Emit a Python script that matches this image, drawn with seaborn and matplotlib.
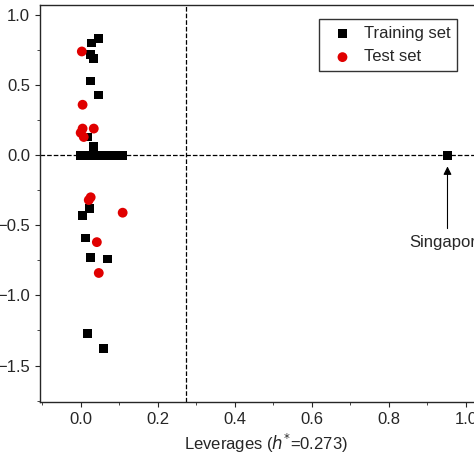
import matplotlib
matplotlib.use("Agg")
import matplotlib.pyplot as plt
import seaborn as sns
import pandas as pd
from matplotlib.ticker import MultipleLocator

sns.set_style("ticks")
plt.rcParams['font.family'] = ['Liberation Sans', 'DejaVu Sans']

train_x = [0.047, 0.029, 0.026, 0.034, 0.026, 0.047, 0.018, 0.034,
           0.0, 0.01, 0.02, 0.03, 0.04, 0.05, 0.06, 0.07, 0.08, 0.09, 0.10, 0.11,
           0.023, 0.005, 0.013, 0.026, 0.07, 0.018, 0.06, 0.952]
train_y = [0.83, 0.80, 0.72, 0.69, 0.53, 0.43, 0.13, 0.06,
           0.0, 0.0, 0.0, 0.0, 0.0, 0.0, 0.0, 0.0, 0.0, 0.0, 0.0, 0.0,
           -0.38, -0.43, -0.59, -0.73, -0.74, -1.27, -1.38, 0.0]
test_x = [0.003, 0.005, 0.005, 0.034, 0.0, 0.008, 0.026, 0.021, 0.109, 0.042, 0.047]
test_y = [0.74, 0.36, 0.19, 0.19, 0.16, 0.13, -0.30, -0.32, -0.41, -0.62, -0.84]
h_star = 0.273

fig = plt.figure(figsize=(4.74, 4.74), dpi=100)
ax = fig.add_axes([0.084, 0.152, 0.956, 0.837])
sns.scatterplot(x=train_x, y=train_y, marker='s', color='black', s=40,
                edgecolor='none', label='Training set', ax=ax, zorder=3)
sns.scatterplot(x=test_x, y=test_y, marker='o', color='#e00000', s=50,
                edgecolor='none', label='Test set', ax=ax, zorder=4)
ax.axhline(0, color='black', ls='--', lw=0.9, zorder=1)
ax.axvline(h_star, color='black', ls='--', lw=0.9, zorder=1)
ax.set_xlim(-0.106, 1.07)
ax.set_ylim(-1.76, 1.07)
ax.xaxis.set_major_locator(MultipleLocator(0.2))
ax.xaxis.set_minor_locator(MultipleLocator(0.1))
ax.yaxis.set_major_locator(MultipleLocator(0.5))
ax.yaxis.set_minor_locator(MultipleLocator(0.25))
ax.tick_params(labelsize=12)
for s in ax.spines.values():
    s.set_visible(True)
    s.set_linewidth(1.0)
ax.set_xlabel(r'Leverages ($h^{*}$=0.273)', fontsize=12)
ax.annotate('Singapore', xy=(0.952, -0.06), xytext=(0.952, -0.62),
            ha='center', va='center', fontsize=12,
            arrowprops=dict(arrowstyle='-|>', color='black', lw=0.8))
ax.legend(loc='upper right', bbox_to_anchor=(0.94, 0.985), fontsize=12,
          frameon=True, fancybox=False, edgecolor='black', handletextpad=0.3)
fig.savefig('out.png', dpi=100)
